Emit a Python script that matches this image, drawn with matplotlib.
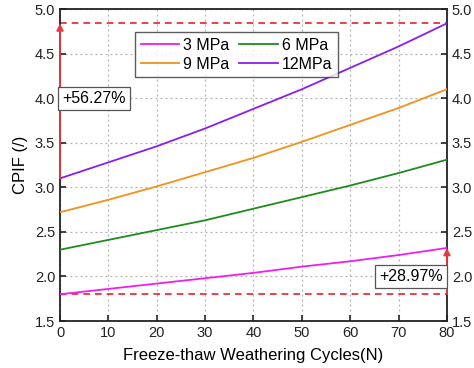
import matplotlib
matplotlib.use("Agg")
import matplotlib.pyplot as plt

plt.rcParams['font.family'] = ['Liberation Sans', 'DejaVu Sans']

cycles = [0, 10, 20, 30, 40, 50, 60, 70, 80]
cpif_3 = [1.80, 1.86, 1.92, 1.98, 2.04, 2.11, 2.17, 2.24, 2.32]
cpif_6 = [2.30, 2.41, 2.52, 2.63, 2.76, 2.89, 3.02, 3.16, 3.31]
cpif_9 = [2.72, 2.86, 3.01, 3.17, 3.33, 3.51, 3.70, 3.89, 4.10]
cpif_12 = [3.10, 3.28, 3.46, 3.66, 3.88, 4.10, 4.34, 4.58, 4.84]
labels = ["3 MPa", "6 MPa", "9 MPa", "12MPa"]
colors = ["#f01ef0", "#1e8c1e", "#f5901e", "#8a1ef0"]
xticks = [0, 10, 20, 30, 40, 50, 60, 70, 80]
yticks = [1.5, 2.0, 2.5, 3.0, 3.5, 4.0, 4.5, 5.0]
pct_low = "+28.97%"
pct_high = "+56.27%"

fig = plt.figure(figsize=(4.74, 3.68), dpi=100)
ax = fig.add_axes([0.1266, 0.1277, 0.8164, 0.8478])

series = [cpif_3, cpif_6, cpif_9, cpif_12]
handles = []
for s, lab, c in zip(series, labels, colors):
    h, = ax.plot(cycles, s, color=c, lw=1.3, label=lab, zorder=3)
    handles.append(h)

ax.axhline(cpif_12[-1], color="#e8202a", lw=1.2, ls=(0, (4, 3)), zorder=2)
ax.axhline(cpif_3[0], color="#e8202a", lw=1.2, ls=(0, (4, 3)), zorder=2)

ax.annotate("", xy=(cycles[0], cpif_12[-1]), xytext=(cycles[0], cpif_12[0]),
            arrowprops=dict(arrowstyle="-|>", color="#e83a3a", lw=1.3,
                            mutation_scale=10, shrinkA=0, shrinkB=0), zorder=5,
            annotation_clip=False)
ax.annotate("", xy=(cycles[-1], cpif_3[-1]), xytext=(cycles[-1], cpif_3[0]),
            arrowprops=dict(arrowstyle="-|>", color="#e83a3a", lw=1.3,
                            mutation_scale=10, shrinkA=0, shrinkB=0), zorder=5,
            annotation_clip=False)

bbox = dict(boxstyle="square,pad=0.25", fc="white", ec="#555555", lw=0.9)
ax.text(0.5, 4.0, pct_high, ha="left", va="center", fontsize=11.5, bbox=bbox, zorder=6)
ax.text(79.2, 2.0, pct_low, ha="right", va="center", fontsize=11.5, bbox=bbox, zorder=6)

ax.set_xlim(0, 80)
ax.set_ylim(1.5, 5.0)
ax.set_xticks(xticks)
ax.set_yticks(yticks)
ax.set_yticklabels([f"{v:.1f}" for v in yticks])
ax.grid(True, color="#b0b0b0", ls=(0, (1.5, 2.5)), lw=0.9)
ax.tick_params(direction="in", length=4, width=1.2, labelsize=10.5, colors="#222222",
               right=True, labelright=True, top=False)
for sp in ax.spines.values():
    sp.set_linewidth(1.3)
    sp.set_color("#222222")

ax.set_xlabel("Freeze-thaw Weathering Cycles(N)", fontsize=12, labelpad=6)
ax.set_ylabel("CPIF (/)", fontsize=12, labelpad=5)

order = [0, 2, 1, 3]
leg = ax.legend([handles[i] for i in order], [labels[i] for i in order], ncol=2,
                loc="upper left", bbox_to_anchor=(0.195, 0.926), fontsize=11.5,
                frameon=True, fancybox=False, edgecolor="#333333",
                handlelength=2.4, handletextpad=0.25, columnspacing=0.6,
                borderpad=0.35, labelspacing=0.25, borderaxespad=0)
leg.get_frame().set_linewidth(1.0)
leg.set_zorder(7)

fig.savefig("out.png", dpi=100)
